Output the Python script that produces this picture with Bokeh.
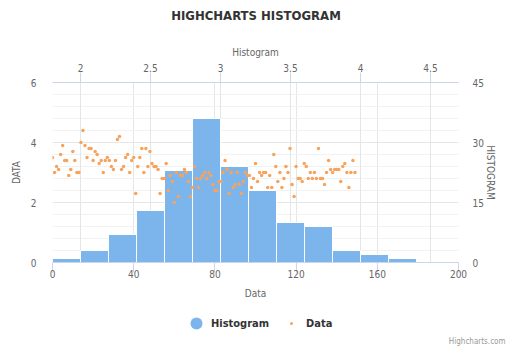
from bokeh.plotting import figure
from bokeh.models import (Range1d, LinearAxis, FixedTicker, Grid, Legend,
                          LegendItem, ColumnDataSource, Label)
from bokeh.layouts import column
from bokeh.embed import file_html
from bokeh.resources import INLINE
import numpy as np

# ---------------- data ----------------
data_values = [3.5, 3, 3.2, 3.1, 3.6, 3.9, 3.4, 3.4, 2.9, 3.1, 3.7, 3.4, 3, 3, 4,
               4.4, 3.9, 3.5, 3.8, 3.8, 3.4, 3.7, 3.6, 3.3, 3.4, 3, 3.4, 3.5, 3.4, 3.2,
               3.1, 3.4, 4.1, 4.2, 3.1, 3.2, 3.5, 3.6, 3, 3.4, 3.5, 2.3, 3.2, 3.5, 3.8, 3,
               3.8, 3.2, 3.7, 3.3, 3.2, 3.2, 3.1, 2.3, 2.8, 2.8, 3.3, 2.4, 2.9, 2.7, 2, 3,
               2.2, 2.9, 2.9, 3.1, 3, 2.7, 2.2, 2.5, 3.2, 2.8, 2.5, 2.8, 2.9, 3, 2.8, 3,
               2.9, 2.6, 2.4, 2.4, 2.7, 2.7, 3, 3.4, 3.1, 2.3, 3, 2.5, 2.6, 3, 2.6, 2.3,
               2.7, 3, 2.9, 2.9, 2.5, 2.8, 3.3, 2.7, 3, 2.9, 3, 3, 2.5, 2.9, 2.5, 3.6,
               3.2, 2.7, 3, 2.5, 2.8, 3.2, 3, 3.8, 2.6, 2.2, 3.2, 2.8, 2.8, 2.7, 3.3, 3.2,
               2.8, 3, 2.8, 3, 2.8, 3.8, 2.8, 2.8, 2.6, 3, 3.4, 3.1, 3, 3.1, 3.1, 3.1, 2.7,
               3.2, 3.3, 3, 2.5, 3, 3.4, 3]
data_index = list(range(len(data_values)))

hist_edges = [1.8, 2.0, 2.2, 2.4, 2.6, 2.8, 3.0, 3.2, 3.4, 3.6, 3.8, 4.0, 4.2, 4.4]
hist_counts = [1, 3, 7, 13, 23, 36, 24, 18, 10, 9, 3, 2, 1]

bottom_ticks = [0, 40, 80, 120, 160, 200]
top_ticks = [2, 2.5, 3, 3.5, 4, 4.5]
top_tick_labels = ["2", "2.5", "3", "3.5", "4", "4.5"]
left_ticks = [0, 2, 4, 6]
right_ticks = [0, 15, 30, 45]

series_names = ["Histogram", "Data"]
title_text = "HIGHCHARTS HISTOGRAM"
credits_text = "Highcharts.com"

# ---------------- style ----------------
FONT = "DejaVu Sans Condensed, DejaVu Sans, sans-serif"
AXIS_BLUE = "#ccd6eb"
GRID = "#e6e6e6"
MINOR_GRID = "#f2f2f2"
LABEL_COLOR = "#666666"
BLUE = "#7cb5ec"
ORANGE = "#f7a35c"
W = 511


def strip(height):
    f = figure(width=W, height=height, output_backend="svg", toolbar_location=None,
               x_range=Range1d(0, W), y_range=Range1d(0, height),
               x_axis_type=None, y_axis_type=None,
               min_border_left=0, min_border_right=0, min_border_top=0, min_border_bottom=0)
    f.outline_line_color = None
    f.grid.visible = False
    f.background_fill_color = "white"
    f.border_fill_color = "white"
    try:
        f.frame_align = False
    except Exception:
        pass
    return f


# ---------------- title strip ----------------
p0 = strip(30)
p0.add_layout(Label(x=W / 2, y=15, text=title_text, text_align="center", text_baseline="middle",
                    text_font=FONT, text_font_size="13px", text_font_style="bold",
                    text_color="#333333"))

# ---------------- main chart ----------------
p = figure(width=W, height=276, output_backend="svg", toolbar_location=None,
           x_range=Range1d(0, 200), y_range=Range1d(0, 6),
           min_border_left=52, min_border_right=53, min_border_top=52, min_border_bottom=44)
p.extra_x_ranges = {"top": Range1d(1.8, 4.7)}
p.extra_y_ranges = {"right": Range1d(0, 45)}
p.outline_line_color = None
p.background_fill_color = "white"
p.border_fill_color = "white"


def style_axis(ax):
    ax.major_label_text_color = LABEL_COLOR
    ax.major_label_text_font = FONT
    ax.major_label_text_font_size = "10px"
    ax.axis_label_text_color = LABEL_COLOR
    ax.axis_label_text_font = FONT
    ax.axis_label_text_font_size = "10px"
    ax.axis_label_text_font_style = "normal"
    ax.minor_tick_line_color = None
    ax.minor_tick_out = 0
    ax.minor_tick_in = 0


# bottom axis
xb = p.xaxis[0]
xb.ticker = FixedTicker(ticks=bottom_ticks)
style_axis(xb)
xb.axis_line_color = AXIS_BLUE
xb.major_tick_line_color = AXIS_BLUE
xb.major_tick_out = 10
xb.major_tick_in = 0
xb.major_label_standoff = -3
xb.axis_label = "Data"
xb.axis_label_standoff = 7

# left axis
yl = p.yaxis[0]
yl.ticker = FixedTicker(ticks=left_ticks, minor_ticks=list(np.round(np.arange(0, 6.01, 0.4), 2)))
style_axis(yl)
yl.axis_line_color = None
yl.major_tick_line_color = None
yl.major_tick_out = 0
yl.major_tick_in = 0
yl.major_label_standoff = 16
yl.axis_label = "DATA"
yl.axis_label_standoff = 6

# top axis
xt = LinearAxis(x_range_name="top", ticker=FixedTicker(ticks=top_ticks))
style_axis(xt)
xt.axis_line_color = AXIS_BLUE
xt.major_tick_line_color = AXIS_BLUE
xt.major_tick_out = 10
xt.major_tick_in = 0
xt.major_label_standoff = 1
xt.major_label_overrides = {t: s for t, s in zip(top_ticks, top_tick_labels)}
xt.axis_label = "Histogram"
xt.axis_label_standoff = 3
p.add_layout(xt, "above")

# right axis
yr = LinearAxis(y_range_name="right", ticker=FixedTicker(ticks=right_ticks))
style_axis(yr)
yr.axis_line_color = None
yr.major_tick_line_color = None
yr.major_tick_out = 0
yr.major_tick_in = 0
yr.major_label_standoff = 14
yr.axis_label = "HISTOGRAM"
yr.axis_label_standoff = -2
p.add_layout(yr, "right")

# grids
p.xgrid[0].grid_line_color = GRID
p.ygrid[0].grid_line_color = GRID
p.ygrid[0].minor_grid_line_color = MINOR_GRID
p.add_layout(Grid(dimension=0, ticker=xt.ticker, x_range_name="top", grid_line_color=GRID))

# histogram bars
hist_src = ColumnDataSource(dict(left=hist_edges[:-1], right=hist_edges[1:], top=hist_counts))
p.quad(left="left", right="right", top="top", bottom=0, source=hist_src,
       x_range_name="top", y_range_name="right",
       fill_color=BLUE, line_color="white", line_width=1)

# scatter data
p.scatter(x=data_index, y=data_values, size=3.5, marker="circle",
          fill_color=ORANGE, line_color=None)

# ---------------- legend / credits strip ----------------
p2 = strip(44)
# legend-only renderers, placed outside the visible range of this strip
leg_hist = p2.scatter(x=[-100], y=[-100], marker="circle", fill_color=BLUE, line_color=None)
leg_data = p2.scatter(x=[-100], y=[-100], marker="dot", fill_color=ORANGE, line_color=ORANGE)
legend = Legend(items=[LegendItem(label=series_names[0], renderers=[leg_hist]),
                       LegendItem(label=series_names[1], renderers=[leg_data])],
                orientation="horizontal", location=(181, 12),
                glyph_width=30, glyph_height=30, label_standoff=-3, spacing=7,
                padding=0, margin=0, border_line_color=None, background_fill_alpha=0,
                label_text_font=FONT, label_text_font_size="11px",
                label_text_font_style="bold", label_text_color="#333333")
p2.add_layout(legend)

p2.add_layout(Label(x=505, y=9, text=credits_text, text_align="right", text_baseline="middle",
                    text_font=FONT, text_font_size="8px", text_color="#999999"))

open("out.html", "w").write(file_html(column(p0, p, p2, spacing=0), INLINE))
